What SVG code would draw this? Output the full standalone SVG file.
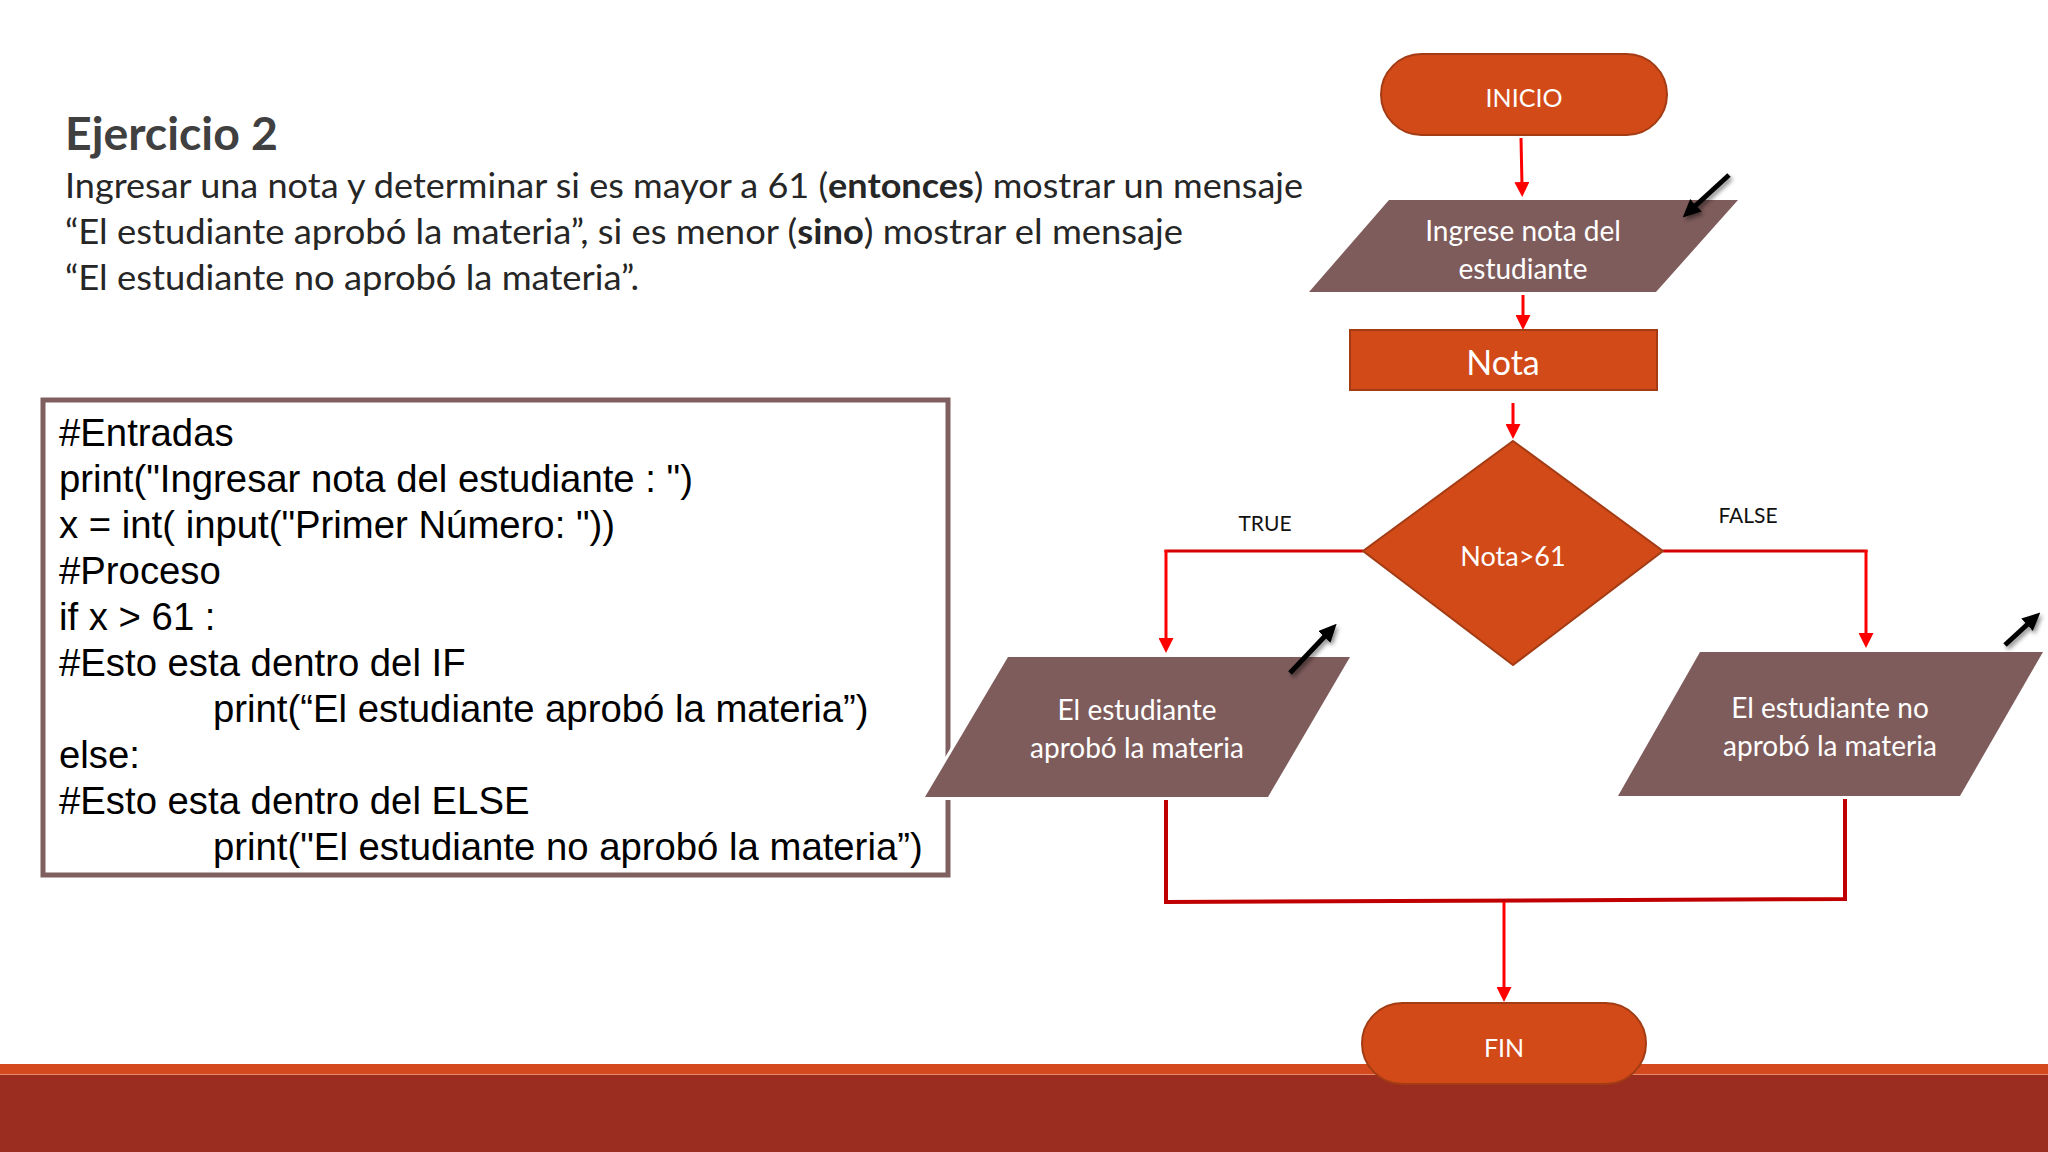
<svg xmlns="http://www.w3.org/2000/svg" width="2048" height="1152" viewBox="0 0 2048 1152">
<defs>
<style>
.term{fill:#D24A18;stroke:#A33C14;stroke-width:2}
.io{fill:#7F5C5C;stroke:#ffffff;stroke-width:6;paint-order:stroke}
.wt{font-family:Lato,"Noto Sans",sans-serif;fill:#ffffff;text-anchor:middle}
.lbl{font-family:Lato,"Noto Sans",sans-serif;fill:#111111;text-anchor:middle;font-size:21px}
.code{font-family:"Liberation Sans",Arial,sans-serif;font-size:38.3px;fill:#000000}
.para{font-family:Lato,"Noto Sans",sans-serif;font-size:34px;fill:#262626}
.red{stroke:#FF0000;stroke-width:3;fill:none}
.dred{stroke:#C00000;stroke-width:4;fill:none}
.hred{stroke:#D40000;stroke-width:3;fill:none}
.blk{stroke:#000000;stroke-width:5;fill:none}
</style>
<marker id="ar" viewBox="0 0 15 15" refX="4" refY="7.5" markerWidth="15" markerHeight="15" markerUnits="userSpaceOnUse" orient="auto">
<path d="M0,0 L15,7.5 L0,15 z" fill="#FF0000"/>
</marker>
<marker id="ab" viewBox="0 0 18 17" refX="4" refY="8.5" markerWidth="18" markerHeight="17" markerUnits="userSpaceOnUse" orient="auto">
<path d="M0,0 L18,8.5 L0,17 z" fill="#000000"/>
</marker>
<filter id="sh" x="-50%" y="-50%" width="200%" height="200%">
<feDropShadow dx="2" dy="3" stdDeviation="2" flood-color="#000000" flood-opacity="0.45"/>
</filter>
</defs>

<rect x="0" y="0" width="2048" height="1152" fill="#ffffff"/>

<g id="title">
<text x="65" y="150" font-family="Lato,'Noto Sans',sans-serif" font-size="46" font-weight="bold" fill="#404040" textLength="213" lengthAdjust="spacingAndGlyphs">Ejercicio 2</text>
</g>
<g id="enunciado">
<text class="para" x="65" y="198" textLength="1238" lengthAdjust="spacingAndGlyphs">Ingresar una nota y determinar si es mayor a 61 (<tspan font-weight="bold">entonces</tspan>) mostrar un mensaje</text>
<text class="para" x="65" y="244" textLength="1118" lengthAdjust="spacingAndGlyphs">“El estudiante aprobó la materia”, si es menor (<tspan font-weight="bold">sino</tspan>) mostrar el mensaje</text>
<text class="para" x="65" y="290" textLength="574" lengthAdjust="spacingAndGlyphs">“El estudiante no aprobó la materia”.</text>
</g>

<g id="codigo">
<rect x="43" y="400" width="905" height="475" fill="#ffffff" stroke="#7F5F5F" stroke-width="5"/>
<text class="code" x="59" y="446">#Entradas</text>
<text class="code" x="59" y="492">print("Ingresar nota del estudiante : ")</text>
<text class="code" x="59" y="538">x = int( input("Primer Número: "))</text>
<text class="code" x="59" y="584">#Proceso</text>
<text class="code" x="59" y="630">if x &gt; 61 :</text>
<text class="code" x="59" y="676">#Esto esta dentro del IF</text>
<text class="code" x="213" y="722">print(“El estudiante aprobó la materia”)</text>
<text class="code" x="59" y="768">else:</text>
<text class="code" x="59" y="814">#Esto esta dentro del ELSE</text>
<text class="code" x="213" y="860">print("El estudiante no aprobó la materia”)</text>
</g>

<g id="banda">
<rect x="0" y="1064" width="2048" height="10" fill="#D44A1E"/>
<rect x="0" y="1074" width="2048" height="78" fill="#9B2D20"/>
<line x1="0" y1="1074.5" x2="2048" y2="1074.5" stroke="#E48A6A" stroke-width="1"/>
</g>

<g id="connectors">
<line class="red" x1="1521" y1="138" x2="1522" y2="186" marker-end="url(#ar)"/>
<line class="red" x1="1523" y1="295" x2="1523" y2="319" marker-end="url(#ar)"/>
<line class="red" x1="1513" y1="403" x2="1513" y2="428" marker-end="url(#ar)"/>
<line class="hred" x1="1363" y1="551" x2="1164.5" y2="551"/>
<line class="red" x1="1166" y1="550" x2="1166" y2="642" marker-end="url(#ar)"/>
<line class="hred" x1="1663" y1="551" x2="1867.5" y2="551"/>
<line class="red" x1="1866" y1="550" x2="1866" y2="637" marker-end="url(#ar)"/>
<path class="dred" d="M1166,798 L1166,902 L1845,899 L1845,796"/>
<line class="red" x1="1504" y1="902" x2="1504" y2="991" marker-end="url(#ar)"/>
</g>

<g id="inicio">
<rect class="term" x="1381" y="54" width="286" height="81" rx="40.5"/>
<text class="wt" x="1524" y="107" font-size="25">INICIO</text>
</g>

<g id="ingrese">
<polygon class="io" points="1389,200 1738,200 1656,292 1309,292"/>
<text class="wt" x="1523" y="241" font-size="28">Ingrese nota del</text>
<text class="wt" x="1523" y="279" font-size="28">estudiante</text>
</g>

<g id="nota">
<rect class="term" x="1350" y="330" width="307" height="60"/>
<text class="wt" x="1503" y="375" font-size="34">Nota</text>
</g>

<g id="decision">
<polygon class="term" points="1513,441 1663,551 1513,665 1363,551"/>
<text class="wt" x="1513" y="566" font-size="27">Nota&gt;61</text>
</g>

<g id="labels">
<text class="lbl" x="1265" y="531">TRUE</text>
<text class="lbl" x="1748" y="523">FALSE</text>
</g>

<g id="aprobo">
<polygon class="io" points="1008,657 1350,657 1268,797 925,797"/>
<text class="wt" x="1137" y="720" font-size="28">El estudiante</text>
<text class="wt" x="1137" y="758" font-size="28">aprobó la materia</text>
</g>

<g id="noaprobo">
<polygon class="io" points="1700,652 2043,652 1960,796 1618,796"/>
<text class="wt" x="1830" y="718" font-size="28">El estudiante no</text>
<text class="wt" x="1830" y="756" font-size="28">aprobó la materia</text>
</g>

<g id="fin">
<rect class="term" x="1362" y="1003" width="284" height="81" rx="40.5"/>
<text class="wt" x="1504" y="1057" font-size="25">FIN</text>
</g>

<g id="pointers" filter="url(#sh)">
<line class="blk" x1="1729" y1="175" x2="1693" y2="208" marker-end="url(#ab)"/>
<line class="blk" x1="1290" y1="673" x2="1327" y2="634" marker-end="url(#ab)"/>
<line class="blk" x1="2005" y1="645" x2="2030" y2="622" marker-end="url(#ab)"/>
</g>
</svg>
